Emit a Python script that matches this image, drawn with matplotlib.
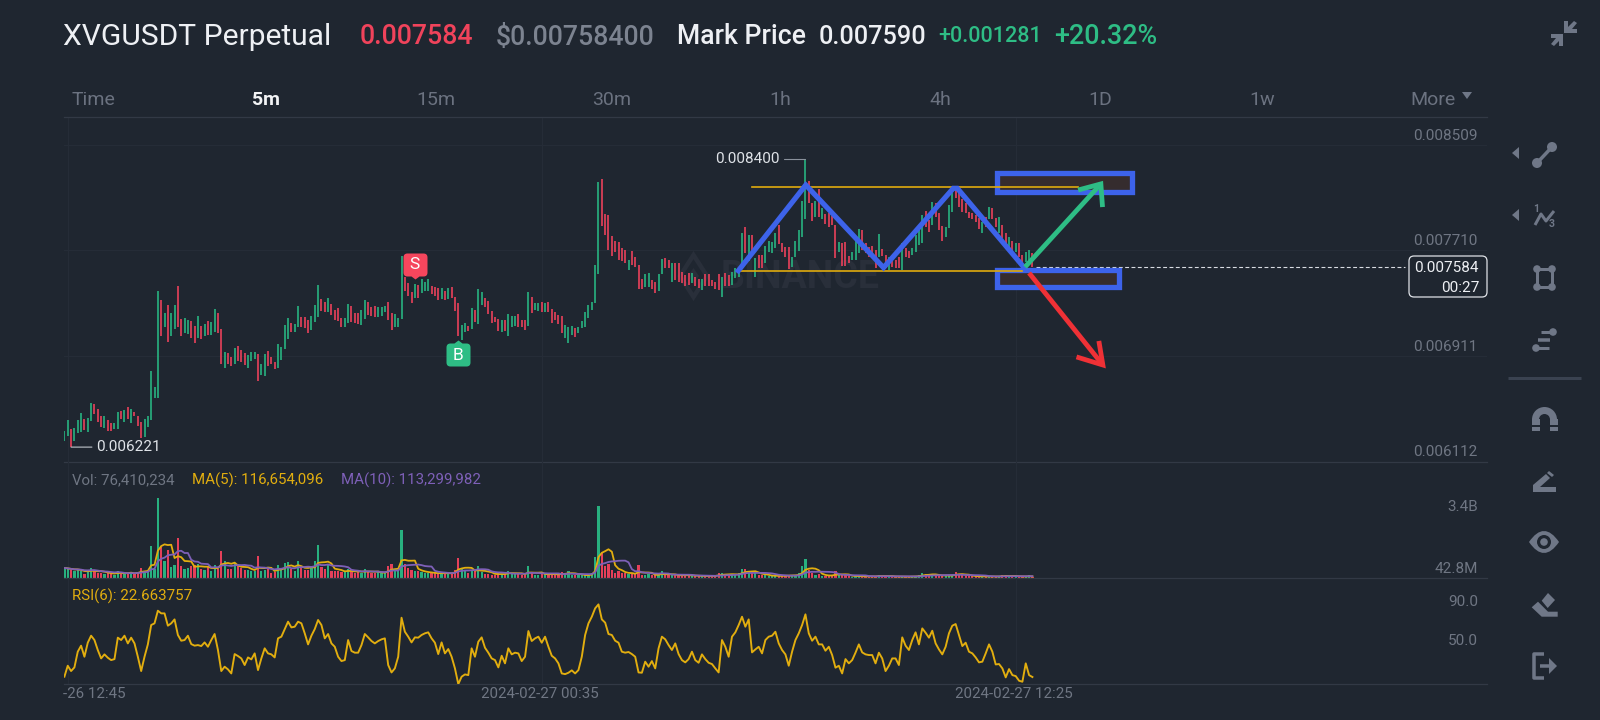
import matplotlib
matplotlib.use("Agg")
import matplotlib.pyplot as plt
import numpy as np
import pandas as pd
from matplotlib.patches import Rectangle, FancyBboxPatch, Polygon, Circle, Wedge, PathPatch
from matplotlib.path import Path
from matplotlib.transforms import ScaledTranslation

plt.rcParams['font.family'] = ['Roboto', 'DejaVu Sans']
plt.rcParams['ytick.alignment'] = 'bottom'

# ---- chart values (prices in millionths of USDT, volume in millions) ----
bar_high = [
6341,6426,6358,6365,6426,6477,6434,6444,6558,6546,
6512,6457,6457,6426,6401,6401,6484,6497,6502,6522,
6507,6484,6457,6414,6431,6457,6797,6679,7403,7335,
7239,7297,7234,7297,7441,7191,7196,7184,7176,7139,
7216,7141,7151,7176,7166,7267,7234,7115,6939,6936,
6906,6974,6987,6956,6931,6918,6939,6939,6926,6850,
6926,6949,6901,6863,7000,6982,7146,7196,7158,7153,
7290,7209,7204,7184,7216,7297,7449,7345,7322,7353,
7302,7259,7272,7196,7196,7305,7290,7239,7239,7259,
7335,7317,7285,7290,7280,7285,7290,7317,7234,7226,
7196,7668,7512,7461,7398,7456,7449,7492,7469,7492,
7444,7436,7423,7423,7406,7423,7431,7360,7310,7146,
7164,7141,7272,7259,7416,7393,7348,7327,7252,7209,
7191,7184,7184,7226,7214,7216,7226,7184,7184,7396,
7360,7310,7315,7317,7315,7322,7264,7247,7221,7214,
7146,7133,7138,7121,7128,7176,7247,7297,7322,7600,
8231,8249,7984,7979,7820,7784,7777,7726,7714,7638,
7706,7658,7600,7492,7532,7542,7486,7474,7532,7643,
7656,7638,7613,7613,7613,7550,7524,7537,7542,7512,
7494,7492,7529,7529,7486,7474,7532,7512,7537,7524,
7545,7575,7587,7840,7885,7827,7827,7651,7676,7676,
7744,7782,7777,7840,7903,7769,7739,7739,7663,7784,
7865,8087,8400,8236,8072,8087,8173,8029,7986,7991,
7971,7903,7777,7764,7777,7668,7696,7784,7870,7865,
7769,7739,7744,7714,7832,7719,7676,7663,7651,7638,
7663,7769,7726,7706,7726,7827,7865,7979,8011,7941,
8080,8072,7991,7895,7890,8054,8143,8181,8198,8097,
8067,8004,7996,7979,7953,7928,7966,8037,8029,7958,
7966,7903,7840,7810,7784,7764,7764,7676,7701,7714,
7688]
bar_low = [
6270,6305,6221,6270,6325,6338,6351,6338,6421,6472,
6414,6376,6363,6343,6343,6356,6358,6431,6414,6431,
6401,6457,6381,6288,6300,6376,6426,6595,6595,7063,
7128,7020,7063,7113,7128,7063,7083,7078,7045,7012,
7045,7037,7063,7070,7070,7096,7083,6848,6817,6848,
6838,6848,6875,6863,6843,6823,6875,6886,6724,6767,
6760,6835,6848,6812,6817,6880,6961,7037,7096,7096,
7133,7128,7121,7088,7108,7171,7209,7254,7247,7247,
7221,7184,7176,7128,7128,7164,7166,7164,7153,7146,
7189,7221,7216,7209,7209,7216,7247,7184,7108,7128,
7128,7191,7406,7368,7315,7348,7353,7391,7403,7406,
7378,7368,7335,7343,7335,7343,7353,7252,7065,7032,
7090,7100,7115,7166,7153,7297,7285,7226,7164,7166,
7103,7096,7100,7065,7133,7138,7128,7128,7108,7141,
7239,7259,7254,7247,7247,7247,7164,7184,7153,7083,
7045,7007,7070,7057,7083,7121,7133,7196,7259,7315,
7532,7895,7827,7714,7668,7701,7638,7633,7613,7562,
7600,7582,7418,7418,7431,7436,7418,7391,7406,7532,
7580,7580,7474,7486,7474,7461,7444,7449,7461,7444,
7423,7411,7444,7444,7444,7416,7411,7355,7444,7444,
7449,7499,7512,7613,7688,7633,7676,7507,7575,7575,
7613,7701,7693,7731,7759,7701,7663,7567,7587,7658,
7709,7815,7951,8067,7936,7966,7966,7946,7911,7885,
7903,7651,7701,7592,7592,7618,7638,7638,7693,7714,
7693,7663,7676,7575,7663,7668,7575,7562,7587,7575,
7575,7562,7663,7656,7676,7701,7752,7769,7885,7852,
7903,7961,7865,7784,7810,7878,7999,8105,8037,8004,
7991,7953,7948,7928,7870,7845,7890,7951,7946,7890,
7840,7802,7752,7714,7701,7701,7663,7613,7625,7638,
7587]
bar_dir = ("GGRGGGRGGR" "RRGRRGGRGR" "GRRRGGGGGR" "GRGGRRGGRR" "GRGRGGRRGR"
           "RGRRRGGGRG" "GRRRGGGGRG" "GRRRGGGRRG" "RRRRGGRRRG" "GRRRGGGRRG"
           "GGRRRGRGGG" "RRRGRGRRRG" "GRGRGGRRRR" "RGRGGGRRRG" "RGGRGRRRRR"
           "GGGRGGGGGG" "GRRRRRRRRG" "RRRRGGRRGG" "RRGRRRRRGR" "RGRRRRRGRR"
           "GGGGRGRGRR" "GGGGRRRRGG" "GGGRRGRGRR" "RRGRRRGGGR" "RRRRGRRGRR"
           "RGRRGGGGRR" "GRRRGGGRRR" "RRRRRGRGRR" "GRRGRGRRGG" "R")
volume = [
583,547,475,439,493,439,259,403,583,475,
313,295,259,367,277,223,439,259,295,313,
349,259,367,583,439,475,1771,547,4363,1699,
943,1573,637,763,2203,673,547,583,673,763,
799,547,493,673,403,763,547,1483,943,547,
547,853,727,583,493,493,403,403,1213,403,
475,547,313,367,727,583,853,907,547,403,
979,583,475,493,583,943,1807,619,547,727,
439,403,439,367,367,547,403,313,367,331,
547,403,313,331,367,313,331,673,799,493,
403,2617,799,583,493,439,403,367,313,313,
313,295,295,313,295,295,295,493,1123,583,
493,313,439,403,673,367,259,259,223,223,
313,259,259,439,259,295,259,223,223,691,
295,223,223,295,259,223,259,223,223,367,
259,439,223,187,187,187,223,223,295,1159,
3967,1393,673,799,493,313,439,295,295,259,
259,259,727,223,223,259,187,187,223,439,
187,187,187,187,223,187,187,187,151,151,
151,151,151,151,151,169,295,313,223,187,
223,259,295,529,511,331,313,367,187,187,
187,151,151,151,151,187,187,187,187,187,
295,673,1087,493,295,187,259,151,151,151,
187,439,223,187,187,133,115,133,151,133,
133,115,133,133,223,133,133,133,115,115,
115,115,115,115,133,151,187,295,259,187,
259,187,151,133,187,223,187,367,259,223,
133,133,133,133,133,133,115,115,133,133,
133,187,187,133,133,115,133,133,115,187,
76]
rsi = [
23.0,34.1,28.7,32.4,48.3,54.4,43.2,57.4,64.5,60.1,
50.0,41.5,45.6,42.2,39.8,40.8,62.5,60.1,64.5,56.7,
62.5,56.7,43.2,28.7,43.2,55.7,75.3,77.0,89.8,87.1,
87.1,74.6,77.0,81.0,65.2,59.4,60.1,64.5,56.0,54.4,
55.0,54.0,57.7,53.3,60.1,66.2,50.0,28.7,33.1,30.4,
26.3,45.9,43.9,41.5,34.8,42.5,40.5,46.6,29.7,41.5,
51.7,46.6,45.6,42.5,61.8,63.5,71.2,78.7,72.9,73.6,
78.7,77.0,66.9,55.7,64.5,71.2,80.4,75.3,61.8,66.2,
56.7,53.3,43.2,38.8,39.8,60.1,49.0,47.3,47.3,55.0,
66.2,62.8,59.1,56.7,59.1,60.8,61.8,34.8,27.3,31.4,
43.2,82.7,68.5,63.5,57.7,62.8,62.5,65.2,66.9,67.9,
61.8,57.4,45.9,57.7,46.6,51.0,43.2,31.4,15.5,23.0,
25.3,24.6,51.7,43.2,58.4,62.8,52.3,47.3,41.5,39.8,
32.4,44.2,36.5,51.7,45.6,47.3,46.6,38.8,43.2,69.2,
59.1,61.8,63.5,57.4,63.5,53.3,44.2,41.5,36.5,26.3,
25.6,27.0,29.4,26.3,29.7,43.2,65.2,77.0,83.7,92.2,
96.2,81.0,77.7,66.2,65.2,59.4,57.4,48.3,47.3,48.0,
45.9,43.2,27.3,27.0,38.2,33.1,38.8,31.4,51.7,63.5,
60.8,55.0,50.0,56.7,45.9,39.8,37.5,40.8,48.3,39.8,
37.1,45.6,40.8,37.1,35.8,31.4,27.3,60.1,53.3,43.2,
63.5,67.9,75.3,83.7,73.6,81.0,47.6,50.6,53.3,46.6,
60.1,63.5,64.5,68.5,56.7,50.0,45.6,34.1,48.3,60.1,
66.9,75.3,86.1,66.9,59.4,63.5,55.7,55.7,49.3,53.3,
44.9,32.1,34.1,26.3,40.8,36.5,39.8,47.3,55.7,47.6,
45.6,44.9,44.9,36.5,47.3,41.5,28.7,34.1,41.5,41.5,
34.8,62.8,54.4,50.0,60.1,67.9,55.7,71.9,67.5,62.5,
69.5,56.7,50.6,45.6,53.3,66.9,74.6,76.3,65.2,54.0,
57.4,48.3,46.6,42.5,37.5,38.2,46.6,55.7,48.3,35.4,
35.8,31.4,22.3,30.7,24.6,23.6,18.9,17.9,36.5,24.6,
22.66]

last_price = 7584
price_ticks = [6112, 6911, 7710, 8509]
price_tick_labels = ['0.006112', '0.006911', '0.007710', '0.008509']
volume_ticks = [42.8, 3400]
volume_tick_labels = ['42.8M', '3.4B']
rsi_ticks = [50, 90]
rsi_tick_labels = ['50.0', '90.0']
time_ticks = [1, 143, 285]
time_tick_labels = ['-26 12:45', '2024-02-27 00:35', '2024-02-27 12:25']

# hand-drawn analysis overlays, as (candle index, price)
zigzag_x = [201.9, 222.1, 245.4, 266.3, 267.5, 287.3]
zigzag_y = [7557, 8206, 7580, 8181, 8181, 7587]
level_top = (205.9, 303.8, 8191)
level_bottom = (202.5, 287.0, 7557)
box_top = (279.4, 319.8, 8153, 8297)
box_bottom = (279.4, 315.9, 7433, 7562)
arrow_up_x = [287.8, 310.5]
arrow_up_y = [7585, 8214]
arrow_up_head_x = [303.7, 310.5, 311.0]
arrow_up_head_y = [8168, 8214, 8039]
arrow_down_x = [289.0, 311.1]
arrow_down_y = [7540, 6843]
arrow_down_head_x = [303.2, 311.1, 309.9]
arrow_down_head_y = [6904, 6843, 7025]
signal_sell = (105, 7492)
signal_buy = (118, 7032)

# ---- styling ----
BG = '#1f2630'
GRID = '#252c37'
SEP = '#323945'
RED = '#e5405a'
GREEN = '#28b07f'
YEL = '#e2ae0f'
PUR = '#7e60b8'
AXT = '#6f7683'
IC = '#6f7787'
BLUE = '#3d63ea'
PX = 72 / 100  # points per pixel

W, H = 1600, 720
fig = plt.figure(figsize=(16, 7.2), dpi=100, facecolor=BG)

def place(top, bottom, left=64, right=1487, z=2):
    a = fig.add_axes([left / W, 1 - bottom / H, (right - left) / W, (bottom - top) / H], zorder=z)
    a.set_facecolor('none')
    return a

# UI layer in pixels (header, tool rail, watermark)
ui = fig.add_axes([0, 0, 1, 1], zorder=0)
ui.set_xlim(0, W); ui.set_ylim(H, 0); ui.axis('off')

def T(x, y, s, c, fs, ha='left', w='normal', **kw):
    ui.text(x, y, s, color=c, fontsize=fs, ha=ha, va='center', fontweight=w, **kw)

T(63, 37, 'XVGUSDT Perpetual', '#eef0f4', 21.6)
T(360, 37, '0.007584', '#f0435b', 19.3, w='medium')
T(496, 37, '$0.00758400', '#7c8390', 19.2, w='medium')
T(677, 37, 'Mark Price', '#eef0f4', 19.2, w='medium')
T(819, 37, '0.007590', '#eef0f4', 18.2, w='medium')
T(938, 37, '+0.001281', '#2ebd85', 15.5, w='medium')
T(1054, 37, '+20.32%', '#2ebd85', 19.4, w='medium')
for x, s, c, w in [(93, 'Time', '#6b7280', 'normal'), (266, '5m', '#f2f3f5', 'bold'),
                   (436, '15m', '#6b7280', 'normal'), (612, '30m', '#6b7280', 'normal'),
                   (780, '1h', '#6b7280', 'normal'), (940, '4h', '#6b7280', 'normal'),
                   (1100, '1D', '#6b7280', 'normal'), (1262, '1w', '#6b7280', 'normal'),
                   (1433, 'More', '#6b7280', 'normal')]:
    T(x, 100, s, c, 14, ha='center', w=w)
ui.add_patch(Polygon([(1462, 92), (1472, 92), (1467, 99)], color=IC, lw=0))

# collapse icon
ui.add_patch(Polygon([(1564, 33), (1577, 33), (1577, 29), (1572, 29), (1577, 23), (1574, 21), (1568, 27), (1568, 21), (1564, 21)], color=IC, lw=0))
ui.add_patch(Polygon([(1563, 34), (1551, 34), (1551, 38), (1556, 38), (1551, 44), (1554, 46), (1559, 41), (1559, 46), (1563, 46)], color=IC, lw=0))

# watermark
WM = '#292f3a'
ui.add_patch(Polygon([(693.5, 255), (707, 276), (693.5, 297), (680, 276)], fc='none', ec=WM, lw=3.2, joinstyle='miter'))
ui.add_patch(Polygon([(693.5, 268), (699, 276), (693.5, 284), (688, 276)], color=WM, lw=0))
T(721, 278, 'BINANCE', WM, 27, w='bold')

def ln(xs, ys, lw=3, c=IC):
    ui.plot(xs, ys, color=c, lw=lw * PX, solid_capstyle='butt')

def dot(x, y, r=4.5, c=IC):
    ui.add_patch(Circle((x, y), r, color=c, lw=0))

# tool rail
ui.add_patch(Polygon([(1519, 147), (1519, 159), (1512, 153)], color=IC, lw=0))
ln([1537, 1552], [163, 147], 3.5); dot(1537, 163, 5); dot(1552, 147, 5)
ui.add_patch(Polygon([(1519, 209), (1519, 221), (1512, 215)], color=IC, lw=0))
ln([1535, 1541, 1546, 1554], [225, 214, 221, 211], 3)
T(1536, 209, '1', IC, 7.5, ha='center', w='bold'); T(1552, 224, '3', IC, 7.5, ha='center', w='bold')
ui.add_patch(Rectangle((1537, 269), 15, 18, fc='none', ec=IC, lw=3 * PX))
for cx, cy in [(1537, 269), (1552, 269), (1537, 287), (1552, 287)]:
    dot(cx, cy, 3.8)
ln([1541, 1553], [332, 332]); dot(1553, 332, 3.8)
ln([1538, 1550], [340, 340], 3.5)
ln([1536, 1549], [348, 348]); dot(1536, 348, 3.8)
ln([1508, 1581], [378, 378], 3, '#3a4250')
ui.add_patch(Wedge((1544.5, 419.5), 12.5, 180, 360, width=7, color=IC, lw=0))
for lx in (1532, 1550):
    ui.add_patch(Rectangle((lx, 419), 7.5, 6, color=IC, lw=0))
    ui.add_patch(Rectangle((lx, 427), 7.5, 4, color=IC, lw=0))
ui.add_patch(Polygon([(1533, 485), (1546, 474), (1550, 478), (1540, 487), (1556, 487), (1556, 492), (1533, 492)], color=IC, lw=0))
ui.add_patch(Polygon([(1549, 471), (1554, 475), (1552, 477), (1547, 473)], color=IC, lw=0))
ui.add_patch(PathPatch(Path([(1529, 542), (1544, 520), (1559, 542), (1544, 564), (1529, 542)],
                            [Path.MOVETO, Path.CURVE3, Path.CURVE3, Path.CURVE3, Path.CURVE3]), color=IC, lw=0))
dot(1544, 542, 7, BG); dot(1544, 542, 3.8)
ui.add_patch(Polygon([(1541.7, 600.7), (1548, 593), (1555, 600), (1547.7, 608)], color=IC, lw=0))
ui.add_patch(Polygon([(1531.7, 607.3), (1538, 601.7), (1548, 611.7), (1557.7, 611.7), (1557.7, 616.7), (1541.7, 616.7)], color=IC, lw=0))
ln([1544, 1534, 1534, 1544], [654, 654, 678, 678], 3.5)
ln([1540, 1551], [666, 666], 3.5)
ui.add_patch(Polygon([(1549, 658), (1557, 666), (1549, 674)], color=IC, lw=0))

# last-price tag
ui.add_patch(FancyBboxPatch((1409, 256), 78, 41, boxstyle='round,pad=0,rounding_size=5', fc=BG, ec='#dfe2e7', lw=0.9))
T(1479, 268, '0.007584', '#eef0f4', 11, ha='right')
T(1479, 288, '00:27', '#eef0f4', 11, ha='right')

# ---- data axes ----
PER = 3.338
X0 = 64.4
xlim = ((64 - X0) / PER, (1487 - X0) / PER)
hi = np.array(bar_high) * 1e-6
lo = np.array(bar_low) * 1e-6
idx = np.arange(len(bar_high))
colors = [GREEN if d == 'G' else RED for d in bar_dir]

ax = place(117, 461.5)
ax.set_xlim(*xlim)
ax.set_ylim(0.006112, 0.008721)
av = place(461.5, 578)
av.set_xlim(*xlim)
av.set_ylim(42.8, 6351)
ar = place(578, 684)
ar.set_xlim(*xlim)
ar.set_ylim(15.6, 122.9)

for a in (ax, av, ar):
    a.yaxis.tick_right()
    a.tick_params(axis='y', length=0, pad=-6.6, labelsize=11, labelcolor=AXT)
    a.tick_params(axis='x', length=0)
    a.set_xticks(time_ticks)
    a.grid(axis='x', color=GRID, lw=0.8)
    a.set_axisbelow(True)
    for s in ('left', 'right'):
        a.spines[s].set_visible(False)
    a.spines['top'].set_visible(False)
    a.spines['bottom'].set_color(SEP)
    a.spines['bottom'].set_linewidth(0.9)

ax.spines['top'].set_visible(True); ax.spines['top'].set_color(SEP); ax.spines['top'].set_linewidth(0.9)
ax.set_yticks(np.array(price_ticks) * 1e-6, price_tick_labels)
ax.grid(axis='y', color=GRID, lw=0.8)
av.set_yticks(volume_ticks, volume_tick_labels)
ar.set_yticks(rsi_ticks, rsi_tick_labels)
for a in (ax, av, ar):
    for l in a.get_yticklabels():
        l.set_ha('right')
        l.set_transform(l.get_transform() + ScaledTranslation(0, 2 / 100, fig.dpi_scale_trans))
ax.tick_params(axis='x', labelbottom=False)
av.tick_params(axis='x', labelbottom=False)
ar.set_xticklabels(time_tick_labels)
ar.tick_params(axis='x', labelsize=10.9, labelcolor=AXT, pad=2)
first = ar.get_xticklabels()[0]
first.set_ha('left')
first.set_transform(first.get_transform() + ScaledTranslation(-4.7 / 100, 0, fig.dpi_scale_trans))
for l in ar.get_xticklabels()[1:]:
    l.set_transform(l.get_transform() + ScaledTranslation(-1.5 / 100, 0, fig.dpi_scale_trans))

# candles
ax.vlines(idx, lo, hi, colors=colors, lw=1.7 * PX, zorder=2)

# extreme labels
ax.annotate('0.008400', xy=(222, 0.008400), xytext=(-26, 0), textcoords='offset pixels', ha='right', va='center',
            color='#dfe3e8', fontsize=11,
            arrowprops=dict(arrowstyle='-', color='#8a919c', lw=0.8, shrinkA=1, shrinkB=0,
                            connectionstyle='angle,angleA=0,angleB=90,rad=0'))
ax.annotate('0.006221', xy=(2, 0.006221), xytext=(25, 0), textcoords='offset pixels', ha='left', va='center',
            color='#dfe3e8', fontsize=11,
            arrowprops=dict(arrowstyle='-', color='#bfc4cb', lw=0.8, shrinkA=1, shrinkB=0))

# last price
ax.plot([291, (1405 - X0) / PER], [last_price * 1e-6] * 2, color='#d8dce2', lw=0.8, dashes=(3.5, 2.2), zorder=3)

# boxes, levels, zigzag, arrows
for (x0, x1, y0, y1) in (box_top, box_bottom):
    ax.add_patch(Rectangle((x0, y0 * 1e-6), x1 - x0, (y1 - y0) * 1e-6, fc='#352c2e', ec=BLUE,
                           lw=5.3 * PX, joinstyle='miter', zorder=3))
for (x0, x1, y) in (level_top, level_bottom):
    ax.plot([x0, x1], [y * 1e-6, y * 1e-6], color='#dba80f', lw=1.7 * PX, zorder=4)
ax.plot(zigzag_x, np.array(zigzag_y) * 1e-6, color=BLUE, lw=5.2 * PX, solid_joinstyle='miter', zorder=5)
for xs, ys, hx, hy, c in ((arrow_up_x, arrow_up_y, arrow_up_head_x, arrow_up_head_y, '#2ebd85'),
                          (arrow_down_x, arrow_down_y, arrow_down_head_x, arrow_down_head_y, '#ef3136')):
    ax.plot(xs, np.array(ys) * 1e-6, color=c, lw=4.8 * PX, solid_capstyle='butt', zorder=6)
    ax.plot(hx, np.array(hy) * 1e-6, color=c, lw=4.8 * PX, solid_capstyle='butt', solid_joinstyle='miter', zorder=6)

# S / B tags: a rounded square with a pointer, tip on the signal price
def tag(sign):
    r = 4
    pts = [(0, 0), (4, 3), (12 - r, 3), (12, 3), (12, 3 + r), (12, 26 - r), (12, 26), (12 - r, 26),
           (-12 + r, 26), (-12, 26), (-12, 26 - r), (-12, 3 + r), (-12, 3), (-12 + r, 3), (-4, 3), (0, 0)]
    codes = [Path.MOVETO, Path.LINETO, Path.LINETO, Path.CURVE3, Path.CURVE3, Path.LINETO, Path.CURVE3, Path.CURVE3,
             Path.LINETO, Path.CURVE3, Path.CURVE3, Path.LINETO, Path.CURVE3, Path.CURVE3, Path.LINETO, Path.CLOSEPOLY]
    return Path([(x, sign * y) for x, y in pts], codes)

for (sx, sy), sign, col, s in ((signal_sell, 1, '#f6465d', 'S'), (signal_buy, -1, '#2ebd85', 'B')):
    ax.plot([sx], [sy * 1e-6], marker=tag(sign), ms=52 * PX, mfc=col, mew=0, ls='none', zorder=7)
    ax.annotate(s, xy=(sx, sy * 1e-6), xytext=(0, sign * 15), textcoords='offset pixels', ha='center', va='center',
                color='white', fontsize=12.5, zorder=8)

# volume and its moving averages (the MA lines are the rolling means their labels name, over the read volumes)
vol = pd.Series(volume, dtype=float)
av.bar(idx, vol - 42.8, bottom=42.8, width=0.66, color=colors, lw=0, zorder=2)
av.plot(idx, vol.rolling(5, min_periods=1).mean(), color=YEL, lw=1.8 * PX, zorder=3)
av.plot(idx, vol.rolling(10, min_periods=1).mean(), color=PUR, lw=1.8 * PX, zorder=4)
for x, s, c in [(72.5, 'Vol: 76,410,234', AXT), (192.5, 'MA(5): 116,654,096', YEL), (341, 'MA(10): 113,299,982', PUR)]:
    T(x, 480, s, c, 10.8)

# RSI
ar.plot(idx, rsi, color=YEL, lw=1.9 * PX, zorder=3)
T(72.5, 596, 'RSI(6): 22.663757', YEL, 10.8)

fig.savefig('out.png', dpi=100, facecolor=BG)
